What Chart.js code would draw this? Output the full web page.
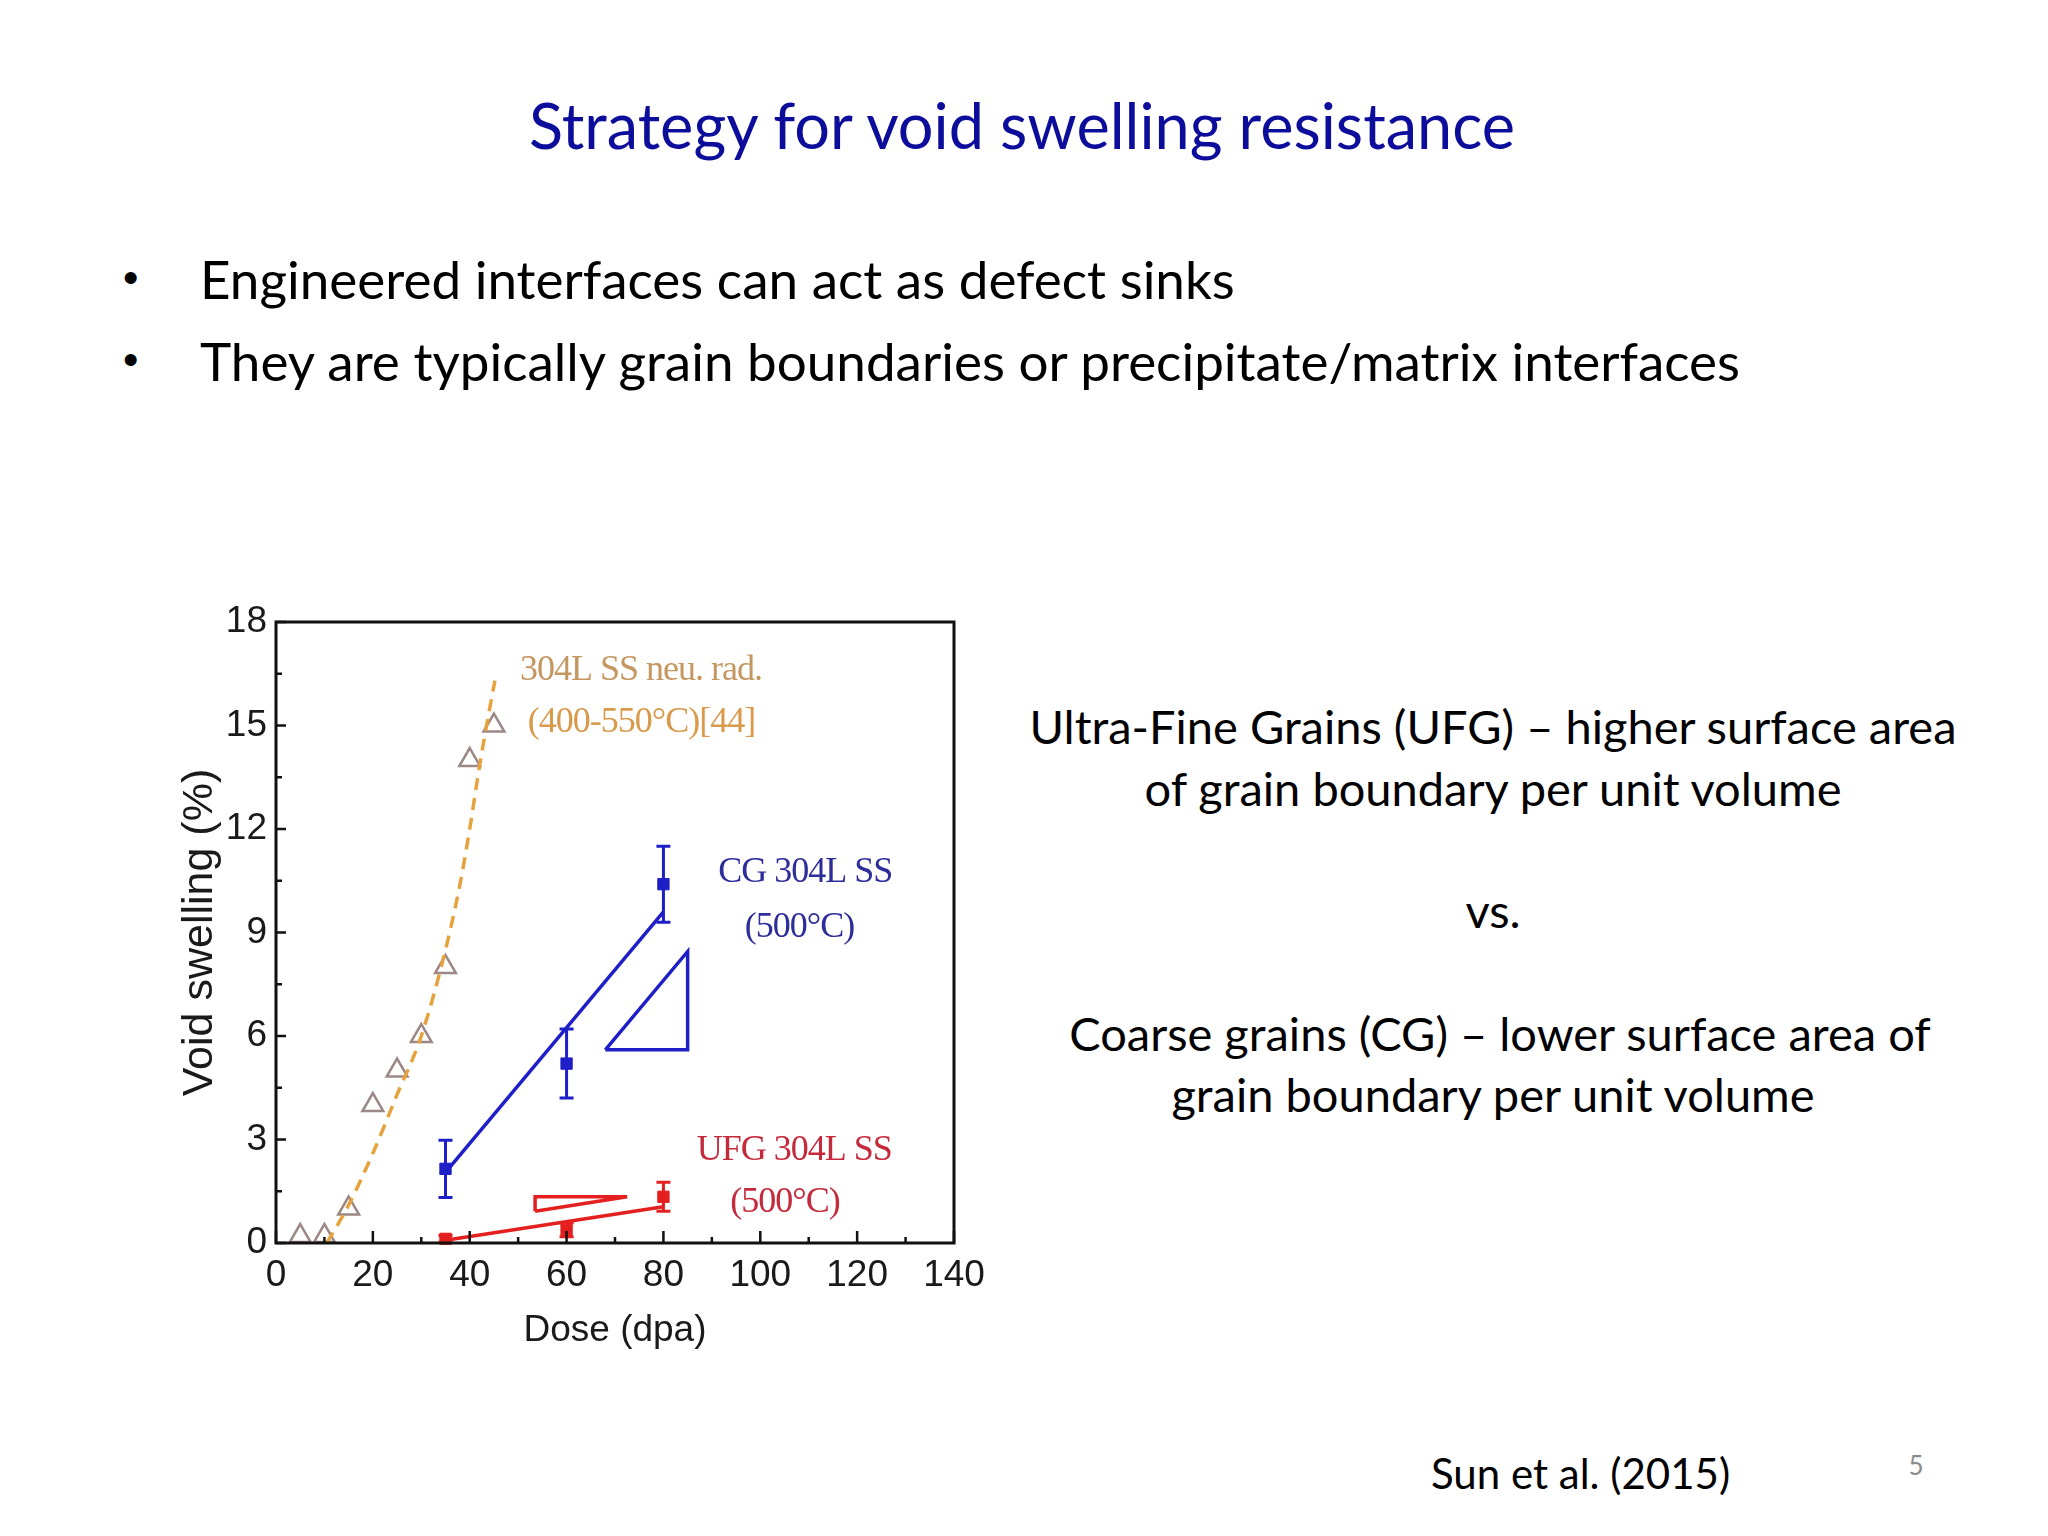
<!DOCTYPE html>
<html>
<head>
<meta charset="utf-8">
<title>Strategy for void swelling resistance</title>
<script src="https://cdn.jsdelivr.net/npm/chart.js@4.4.1/dist/chart.umd.min.js"></script>
<style>
  html, body { margin: 0; padding: 0; background: #fff; }
  #slide { position: relative; width: 2048px; height: 1536px; overflow: hidden;
           font-family: Lato, "Open Sans", sans-serif; color: #000; }
  .t { position: absolute; white-space: nowrap; line-height: 1; }
  .c { transform: translate(-50%, -50%); }
  .l { transform: translateY(-50%); }
  #title { left: 1022px; top: 124px; font-size: 63px; color: #0d0d9c; }
  .dot { font-size: 44px; font-family: "Liberation Sans", Arial, sans-serif; }
  .bullet { font-size: 53px; }
  .side { font-size: 47px; }
  .ref { font-size: 42px; }
  #plot { position: absolute; left: 150px; top: 580px; width: 850px; height: 800px; }
</style>
</head>
<body>
<div id="slide">
  <div id="title" class="t c">Strategy for void swelling resistance</div>

  <div class="t l dot" style="left:123px; top:278px;">•</div>
  <div class="t l bullet" style="left:200px; top:278px;">Engineered interfaces can act as defect sinks</div>
  <div class="t l dot" style="left:123px; top:360px;">•</div>
  <div class="t l bullet" style="left:200px; top:360px;">They are typically grain boundaries or precipitate/matrix interfaces</div>

  <div class="t c side" style="left:1493px; top:726px;">Ultra-Fine Grains (UFG) – higher surface area</div>
  <div class="t c side" style="left:1493px; top:788px;">of grain boundary per unit volume</div>
  <div class="t c side" style="left:1493px; top:910px;">vs.</div>
  <div class="t c side" style="left:1500px; top:1033px;">Coarse grains (CG) – lower surface area of</div>
  <div class="t c side" style="left:1493px; top:1094px;">grain boundary per unit volume</div>

  <div class="t l ref" style="left:1431px; top:1473px;">Sun et al. (2015)</div>
  <div class="t c" style="left:1916px; top:1465px; font-size:26px; color:#8c8c8c;">5</div>

  <div id="plot"><canvas id="swellingChart"></canvas></div>
</div>

<script>
// --- Datos (Sun et al., 2015) ---
// 304L SS irradiado con neutrones (triángulos abiertos)
const neuDose = [5, 10, 15, 20, 25, 30, 35, 40, 45];
const neuSwelling = [0.2, 0.2, 1.0, 4.0, 5.0, 6.0, 8.0, 14.0, 15.0];
// curva de tendencia punteada
const neuFitDose = [10.5, 15, 20, 25, 30, 35, 38, 40, 42, 44, 45.2];
const neuFitSwelling = [0, 1.1, 2.6, 4.3, 6.0, 8.5, 10.4, 12.0, 13.8, 15.4, 16.3];

// CG 304L SS (500°C)
const cgDose = [35, 60, 80];
const cgSwelling = [2.15, 5.2, 10.4];
const cgError = [0.83, 1.0, 1.1];
const cgFitDose = [35, 80];
const cgFitSwelling = [2.05, 9.6];
const cgSlopeDose = [68, 85, 85, 68];
const cgSlopeSwelling = [5.6, 5.6, 8.45, 5.6];

// UFG 304L SS (500°C)
const ufgDose = [35, 60, 80];
const ufgSwelling = [0.12, 0.38, 1.34];
const ufgError = [0.1, 0.2, 0.42];
const ufgFitDose = [35, 80];
const ufgFitSwelling = [0.08, 1.05];
const ufgSlopeDose = [53.5, 53.5, 72.5, 53.5];
const ufgSlopeSwelling = [0.92, 1.34, 1.34, 0.92];

// Ticks de los ejes
const doseTicks = [0, 20, 40, 60, 80, 100, 120, 140];
const swellingTicks = [0, 3, 6, 9, 12, 15, 18];

// Textos dentro del gráfico
const noteTexts = ['304L SS neu. rad.', '(400-550°C)[44]', 'CG 304L SS', '(500°C)', 'UFG 304L SS', '(500°C)'];

const BLUE = '#1f1fc8';
const RED = '#e3201f';
const ORANGE = '#e6a23c';
const AXIS_FONT = '"Liberation Sans", Arial, sans-serif';

function points(xs, ys) {
    return xs.map((x, i) => ({ x: x, y: ys[i] }));
}

// posición y estilo de cada nota (coordenadas de datos)
const notePlacement = [
    { at: [50.4, 16.6], align: 'left', color: '#c49660' },
    { at: [52.0, 15.1], align: 'left', color: '#d99a4c' },
    { at: [109.3, 10.75], align: 'center', color: '#2e2e9a' },
    { at: [108.1, 9.15], align: 'center', color: '#2e2e9a' },
    { at: [107.0, 2.68], align: 'center', color: '#c42a3c' },
    { at: [105.1, 1.16], align: 'center', color: '#c42a3c' }
];

// --- Plugin: marco, ticks interiores, barras de error y notas ---
const figureDecor = {
    id: 'figureDecor',
    afterDatasetsDraw(chart) {
        const { ctx, chartArea: a, scales: { x, y } } = chart;
        ctx.save();

        // barras de error
        const bars = [[cgDose, cgSwelling, cgError, BLUE], [ufgDose, ufgSwelling, ufgError, RED]];
        bars.forEach(([xs, ys, es, color]) => {
            ctx.strokeStyle = color;
            ctx.lineWidth = 3;
            xs.forEach((d, i) => {
                const px = x.getPixelForValue(d);
                const top = y.getPixelForValue(ys[i] + es[i]);
                const bot = y.getPixelForValue(Math.max(0, ys[i] - es[i]));
                ctx.beginPath();
                ctx.moveTo(px, top); ctx.lineTo(px, bot);
                ctx.moveTo(px - 7, top); ctx.lineTo(px + 7, top);
                ctx.moveTo(px - 7, bot); ctx.lineTo(px + 7, bot);
                ctx.stroke();
            });
        });

        // notas
        ctx.font = '36px "Liberation Serif", "DejaVu Serif", serif';
        ctx.letterSpacing = '-1px';
        ctx.textBaseline = 'middle';
        noteTexts.forEach((txt, i) => {
            const p = notePlacement[i];
            ctx.fillStyle = p.color;
            ctx.textAlign = p.align;
            ctx.fillText(txt, x.getPixelForValue(p.at[0]), y.getPixelForValue(p.at[1]));
        });
        ctx.letterSpacing = '0px';

        // marco
        ctx.strokeStyle = '#111';
        ctx.lineWidth = 3;
        ctx.strokeRect(a.left, a.top, a.right - a.left, a.bottom - a.top);

        // ticks hacia dentro (mayores y menores)
        ctx.lineWidth = 2.5;
        ctx.beginPath();
        for (let i = 0; i < doseTicks.length * 2 - 1; i++) {
            const v = i * (doseTicks[1] - doseTicks[0]) / 2;
            const px = x.getPixelForValue(v);
            const len = i % 2 === 0 ? 12 : 6;
            ctx.moveTo(px, a.bottom); ctx.lineTo(px, a.bottom - len);
        }
        for (let i = 0; i < swellingTicks.length * 2 - 1; i++) {
            const v = i * (swellingTicks[1] - swellingTicks[0]) / 2;
            const py = y.getPixelForValue(v);
            const len = i % 2 === 0 ? 10 : 6;
            ctx.moveTo(a.left, py); ctx.lineTo(a.left + len, py);
        }
        ctx.stroke();
        ctx.restore();
    }
};

document.addEventListener('DOMContentLoaded', () => {
    const ctx = document.getElementById('swellingChart').getContext('2d');
    new Chart(ctx, {
        type: 'scatter',
        data: {
            datasets: [
                {
                    label: '304L SS neu. rad. (tendencia)',
                    data: points(neuFitDose, neuFitSwelling),
                    showLine: true, pointRadius: 0,
                    borderColor: ORANGE, borderWidth: 3.5, borderDash: [12, 8],
                    cubicInterpolationMode: 'monotone'
                },
                {
                    label: '304L SS neu. rad.',
                    data: points(neuDose, neuSwelling),
                    pointStyle: 'triangle', pointRadius: 12,
                    borderColor: '#9c8886', borderWidth: 2.5,
                    backgroundColor: 'rgba(0,0,0,0)', clip: false
                },
                {
                    label: 'CG ajuste',
                    data: points(cgFitDose, cgFitSwelling),
                    showLine: true, pointRadius: 0, borderColor: BLUE, borderWidth: 3.5
                },
                {
                    label: 'CG pendiente',
                    data: points(cgSlopeDose, cgSlopeSwelling),
                    showLine: true, pointRadius: 0, borderColor: BLUE, borderWidth: 3.5
                },
                {
                    label: 'CG 304L SS (500°C)',
                    data: points(cgDose, cgSwelling),
                    pointStyle: 'rect', pointRadius: 8,
                    backgroundColor: BLUE, borderColor: BLUE, borderWidth: 1
                },
                {
                    label: 'UFG ajuste',
                    data: points(ufgFitDose, ufgFitSwelling),
                    showLine: true, pointRadius: 0, borderColor: RED, borderWidth: 3.5, clip: false
                },
                {
                    label: 'UFG pendiente',
                    data: points(ufgSlopeDose, ufgSlopeSwelling),
                    showLine: true, pointRadius: 0, borderColor: RED, borderWidth: 3.5
                },
                {
                    label: 'UFG 304L SS (500°C)',
                    data: points(ufgDose, ufgSwelling),
                    pointStyle: 'rect', pointRadius: 8,
                    backgroundColor: RED, borderColor: RED, borderWidth: 1, clip: false
                }
            ]
        },
        options: {
            responsive: true,
            maintainAspectRatio: false,
            animation: false,
            layout: { padding: { top: 42, right: 46, left: 0, bottom: 0 } },
            scales: {
                x: {
                    type: 'linear', min: 0, max: 140,
                    afterBuildTicks: (scale) => { scale.ticks = doseTicks.map(v => ({ value: v })); },
                    afterFit: (scale) => { scale.height = 137; },
                    grid: { display: false },
                    border: { display: false },
                    ticks: { padding: 3, color: '#1a1a1a', font: { family: AXIS_FONT, size: 37 } },
                    title: {
                        display: true, text: 'Dose (dpa)', color: '#1a1a1a',
                        font: { family: AXIS_FONT, size: 37 },
                        padding: { top: 0, bottom: 27 }
                    }
                },
                y: {
                    type: 'linear', min: 0, max: 18,
                    afterBuildTicks: (scale) => { scale.ticks = swellingTicks.map(v => ({ value: v })); },
                    afterFit: (scale) => { scale.width = 126; },
                    grid: { display: false },
                    border: { display: false },
                    ticks: { padding: 1, color: '#1a1a1a', font: { family: AXIS_FONT, size: 37 } },
                    title: {
                        display: true, text: 'Void swelling (%)', color: '#1a1a1a',
                        font: { family: AXIS_FONT, size: 43 },
                        padding: { top: 24, bottom: 0 }
                    }
                }
            },
            plugins: {
                legend: { display: false },
                tooltip: { enabled: false }
            }
        },
        plugins: [figureDecor]
    });
});
</script>
</body>
</html>
